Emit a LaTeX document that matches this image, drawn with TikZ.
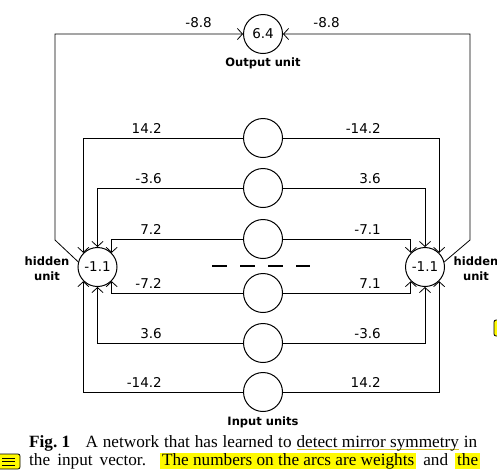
\documentclass[tikz,border=0pt]{standalone}
\usepackage{fontspec}
\setmainfont{Liberation Serif}
\newfontfamily\plotfont{DejaVu Sans}
\usetikzlibrary{arrows.meta}
\definecolor{marker}{RGB}{255,250,0}
\definecolor{markline}{RGB}{215,200,40}

\newcommand\marked[1]{{\setlength\fboxsep{0pt}\colorbox{marker}{\hspace{2pt}\rule[-4pt]{0pt}{16.5pt}#1\hspace{2pt}}}}
\newcommand\markline[1]{\setbox0\hbox{#1}\rlap{\color{markline}\rule[-2.5pt]{\wd0}{0.7pt}}\box0\relax}

\tikzset{
  unit/.style={circle, draw, line width=1pt, minimum size=39pt, inner sep=0pt,
    font=\plotfont\fontsize{13.5}{16}\selectfont},
  wt/.style={draw, line width=0.8pt},
  tip/.style={-{Straight Barb[length=5pt,width=11pt]}},
  wlabel/.style={inner sep=1pt, font=\plotfont\fontsize{13.5}{16}\selectfont},
  tag/.style={inner sep=0pt, font=\plotfont\bfseries\fontsize{11.5}{15}\selectfont},
  capline/.style={anchor=base west, inner sep=0pt, font=\fontsize{17.2}{19}\selectfont}
}

\begin{document}
\begin{tikzpicture}[x=1pt, y=-1pt]
  \useasboundingbox (0,0) rectangle (497,475);

  % units
  \node[unit] (out) at (263,34) {6.4};
  \node[unit] (hidL) at (97.5,267) {-1.1};
  \node[unit] (hidR) at (425,267) {-1.1};
  \foreach \r/\y in {1/138,2/188,3/239,4/293,5/343,6/392}
    \node[unit] (in\r) at (263,\y) {};

  \node[tag] (outtxt) at (263,63) {Output unit};
  \node[tag] (intxt) at (263,422) {Input units};
  \node[tag, align=center] (hidLtxt) at (47,269) {hidden\\unit};
  \node[tag, align=center] (hidRtxt) at (476,269) {hidden\\unit};

  % input -> hidden
  \foreach \r/\y/\a/\b/\wl/\wr in {1/138/135/45/14.2/-14.2, 2/188/90/90/-3.6/3.6,
      3/239/45/135/7.2/-7.1, 4/293/315/225/-7.2/7.1, 5/343/270/270/3.6/-3.6,
      6/392/225/315/-14.2/14.2} {
    \draw[wt, tip] (in\r.west) -| (hidL.\a);
    \draw[wt, tip] (in\r.east) -| (hidR.\b);
    \node[wlabel, anchor=south east] at (163,\y-3) {\wl};
    \node[wlabel, anchor=south east] at (382,\y-3) {\wr};
  }

  % hidden -> output
  \draw[wt, tip] (hidL.165) -- (55,240) |- (out.west);
  \draw[wt, tip] (hidR.15) -- (470,240) |- (out.east);
  \node[wlabel, anchor=south east] at (213,29) {-8.8};
  \node[wlabel, anchor=south east] at (341,29) {-8.8};

  \draw[line width=1.3pt, dash pattern=on 15pt off 13pt] (212,266) -- (310,266);

  % caption
  \node[capline] (cap1) at (29,447.5) {\makebox[448pt][s]{\mbox{\textbf{Fig.~1}}\hspace{0.6em} A network that has learned to \markline{detect mirror symmetry} in}};
  \node[capline] (cap2) at (29,465) {\makebox[451pt][s]{the input vector. \marked{The numbers on the arcs are weights} and \marked{the}}};

  % note icons
  \draw[fill=marker, rounded corners=2pt, line width=0.8pt] (-4,454) rectangle (20,469);
  \foreach \yy in {458,461.5,465}
    \draw[line width=0.7pt] (2,\yy) -- (15,\yy);
  \draw[fill=marker, rounded corners=2pt, line width=0.8pt] (494,320) rectangle (506,336);
\end{tikzpicture}
\end{document}
